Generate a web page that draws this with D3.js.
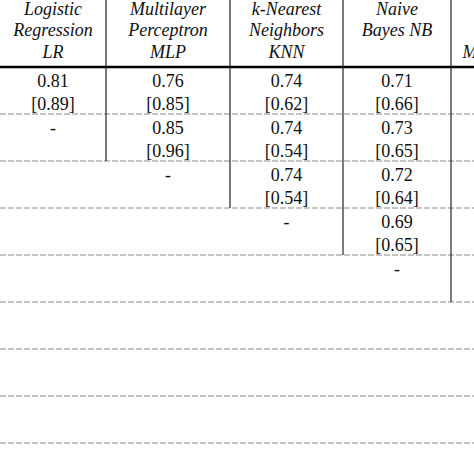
<!DOCTYPE html><html><head><meta charset="utf-8"><script src="https://cdn.jsdelivr.net/npm/d3@7"></script>
<style>body{margin:0;background:#fff} text{font-family:'Liberation Serif','Times New Roman','DejaVu Serif',serif}</style></head><body><svg id="c" width="474" height="474"></svg><script>
const headers=[["Logistic","Regression","LR"],["Multilayer","Perceptron","MLP"],["k-Nearest","Neighbors","KNN"],["Naive","Bayes NB",""],["","","M"]];
const means=[[0.81,0.76,0.74,0.71],[null,0.85,0.74,0.73],[null,null,0.74,0.72],[null,null,null,0.69],[null,null,null,null]];
const brackets=[[0.89,0.85,0.62,0.66],[null,0.96,0.54,0.65],[null,null,0.54,0.64],[null,null,null,0.65],[null,null,null,null]];
const colBounds=[0,106,230,343,451,560];
const rowCount=8;
const svg=d3.select("#c");
const colCenter=i=>(colBounds[i]+colBounds[i+1])/2;
const y=d3.scaleLinear().domain([0,rowCount]).range([67,443]);
headers.forEach((h,i)=>h.forEach((t,j)=>{ if(t) svg.append("text").attr("x",i===4?470:colCenter(i)).attr("y",[15,36,58][j]).attr("text-anchor","middle").attr("font-style","italic").attr("font-size",18).attr("fill","#111").text(t);}));
svg.append("line").attr("x1",0).attr("x2",474).attr("y1",y(0)).attr("y2",y(0)).attr("stroke","#000").attr("stroke-width",2.5);
for(let r=1;r<=rowCount;r++) svg.append("line").attr("x1",0).attr("x2",474).attr("y1",y(r)).attr("y2",y(r)).attr("stroke","#888").attr("stroke-width",1).attr("stroke-dasharray","6,2");
[1,2,3,4].forEach(k=>svg.append("line").attr("x1",colBounds[k]).attr("x2",colBounds[k]).attr("y1",0).attr("y2",y(k+1)).attr("stroke","#222").attr("stroke-width",1.2));
means.forEach((row,r)=>{
  row.forEach((v,c)=>{
    const cy=y(r);
    if(v!==null){
      svg.append("text").attr("x",colCenter(c)).attr("y",cy+20).attr("text-anchor","middle").attr("font-size",18).attr("fill","#111").text(d3.format(".2f")(v));
      svg.append("text").attr("x",colCenter(c)).attr("y",cy+43).attr("text-anchor","middle").attr("font-size",18).attr("fill","#111").text("["+d3.format(".2f")(brackets[r][c])+"]");
    } else if(c===r-1){
      svg.append("text").attr("x",colCenter(c)).attr("y",cy+20).attr("text-anchor","middle").attr("font-size",18).attr("fill","#111").text("-");
    }
  });
});
</script></body></html>
